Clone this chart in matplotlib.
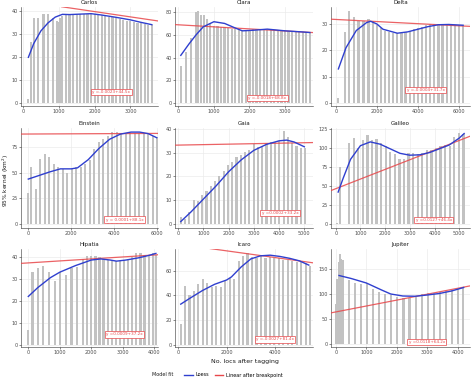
"""Home range (95% kernel) vs number of locations, one panel per individual."""
import matplotlib
matplotlib.use('Agg')
import matplotlib.pyplot as plt
from matplotlib.lines import Line2D

# ---- data -----------------------------------------------------------------
carlos_x = [150, 220, 300, 430, 570, 700, 830, 950, 1000, 1050, 1100, 1200, 1300, 1400, 1500,
            1600, 1700, 1800, 1900, 2000, 2100, 2200, 2300, 2400, 2500, 2600, 2700, 2800,
            2900, 3000, 3100, 3200, 3300, 3400, 3500, 3600]
carlos_n = [2, 26.5, 37, 37, 39, 39, 37, 36, 35.5, 37, 38, 38.5, 38.5, 38.7, 38.8, 39, 39, 39,
            39, 39, 38.8, 38.4, 38, 37.7, 37.4, 37, 36.7, 36.4, 36, 35.7, 35.4, 35.1, 34.8,
            34.5, 34.2, 34]
carlos_fit_x = [150, 300, 500, 700, 900, 1100, 1300, 1600, 1900, 2200, 2600, 3000, 3300, 3600]
carlos_fit_y = [20, 26, 31.5, 35, 37.5, 38.7, 38.6, 38.8, 39, 38.4, 37.4, 36.3, 35.2, 34.2]

clara_x = [70, 210, 350, 500, 560, 640, 720, 800, 900, 1000, 1100, 1200, 1300, 1400, 1500,
           1600, 1700, 1800, 1900, 2000, 2100, 2200, 2300, 2400, 2500, 2600, 2700, 2800,
           2900, 3000, 3100, 3200, 3300, 3400, 3500, 3600, 3700]
clara_n = [33, 45, 57, 80, 81, 77, 77, 74, 70, 68, 67.5, 67, 66.5, 66, 65.5, 65, 64.5, 64, 64,
           64.5, 65, 65, 65, 64.8, 64.6, 64.4, 64.2, 64, 63.8, 63.6, 63.4, 63.2, 63, 62.8,
           62.6, 62.3, 62]
clara_fit_x = [70, 300, 500, 700, 1000, 1300, 1600, 1800, 2100, 2500, 3000, 3500, 3700]
clara_fit_y = [42, 52, 60, 67, 71.5, 70, 66, 63.5, 64, 65, 63.5, 62.5, 62]

delta_x = [130, 440, 650, 880, 1110, 1350, 1600, 1800, 2000, 2200, 2400, 2600, 2800, 3000,
           3200, 3400, 3600, 3800, 4000, 4200, 4400, 4600, 4800, 5000, 5200, 5400, 5600,
           5800, 6000, 6200]
delta_n = [2, 27, 35, 32.5, 31, 31, 32, 31, 29.5, 28.5, 27.5, 27, 26.5, 26.5, 26.5, 27, 27.5,
           28, 28.5, 29, 29.5, 30, 30, 30, 30, 29.8, 29.7, 29.6, 29.5, 29.4]
delta_fit_x = [130, 500, 1000, 1500, 1700, 2000, 2300, 3000, 3500, 4000, 4500, 5000, 5500, 6200]
delta_fit_y = [13, 21, 27.5, 30.5, 31, 30, 28, 26.5, 27, 28, 29, 29.7, 29.8, 29.5]

einstein_x = [0, 120, 350, 560, 770, 980, 1190, 1400, 1610, 1820, 2030, 2240, 2450, 2660,
              2870, 3080, 3290, 3500, 3710, 3920, 4130, 4340, 4550, 4760, 4970, 5180, 5390,
              5600, 5810, 6020]
einstein_n = [30, 56, 34, 64, 69, 66, 59, 56, 54, 50, 54, 56, 56, 59, 63, 73, 80, 83, 86, 90,
              90, 88, 88, 89, 89, 89, 89, 89, 86, 85]
einstein_fit_x = [0, 500, 1000, 1500, 2000, 2300, 2800, 3300, 3800, 4300, 4800, 5200, 5600, 6000]
einstein_fit_y = [44, 47.5, 51, 54, 54, 55, 63, 74, 83, 88, 90, 90, 88.5, 84.5]

gaia_x = [100, 270, 440, 610, 780, 950, 1120, 1290, 1460, 1630, 1800, 1970, 2140, 2310, 2480,
          2650, 2820, 2990, 3160, 3330, 3500, 3670, 3840, 4010, 4180, 4350, 4520, 4690,
          4860, 5030]
gaia_n = [3, 2, 5, 10, 9.5, 12, 14, 16, 18, 20, 22.5, 25, 26, 28, 29, 30.5, 31, 33.5, 32.5, 33,
          34, 34.5, 34.5, 35, 39, 36.5, 34, 33, 32, 32]
gaia_fit_x = [100, 500, 1000, 1500, 2000, 2500, 3000, 3500, 4000, 4300, 4600, 5000]
gaia_fit_y = [1, 5, 10.5, 16, 22, 27, 31, 33.5, 35, 35.3, 34.5, 32.5]

galileo_x = [50, 170, 540, 730, 915, 1100, 1285, 1470, 1655, 1840, 2025, 2210, 2395, 2580,
             2765, 2950, 3135, 3320, 3505, 3690, 3875, 4060, 4245, 4430, 4615, 4800, 4985,
             5170]
galileo_n = [1, 75, 106, 113, 100, 110, 117, 110, 112, 107, 103, 95, 92, 85, 86, 94, 93, 92, 93,
             97, 98, 100, 102, 104, 103, 115, 120, 118]
galileo_fit_x = [100, 300, 600, 1000, 1400, 1800, 2200, 2600, 3000, 3400, 3800, 4200, 4600,
                 5000, 5200]
galileo_fit_y = [42, 60, 85, 103, 108, 105, 99, 93, 90.5, 91, 94, 99, 104, 113, 119]

hipatia_x = [0, 130, 300, 470, 660, 840, 1010, 1190, 1370, 1550, 1730, 1870, 2000, 2130, 2260,
             2390, 2520, 2650, 2780, 2910, 3040, 3170, 3300, 3430, 3560, 3690, 3820, 3950,
             4050]
hipatia_n = [7, 33, 35, 36, 33, 29, 33, 31.5, 35, 35.5, 39, 40.5, 40.5, 40.5, 40, 39, 38.5, 38,
             38, 38, 38.5, 39, 40, 41.5, 41.5, 41, 41, 41.5, 41]
hipatia_fit_x = [0, 300, 700, 1000, 1500, 2000, 2300, 2600, 2800, 3100, 3500, 3800, 4050]
hipatia_fit_y = [22, 26, 30.5, 33, 36, 38.5, 39, 38.5, 38, 38.5, 39.5, 40.5, 41.5]

icaro_x = [96, 275, 460, 645, 830, 1015, 1200, 1385, 1570, 1755, 1940, 2125, 2310, 2495, 2680,
           2865, 3050, 3235, 3420, 3605, 3790, 3975, 4160, 4345, 4530, 4715, 4900, 5085,
           5270, 5455]
icaro_n = [17, 48, 40, 44, 49, 53, 50, 47, 48, 47, 52, 54, 53, 68, 72, 74, 71, 70, 72, 70, 71,
           70, 70, 69, 69, 68, 67, 67, 66, 64]
icaro_fit_x = [100, 500, 1000, 1500, 2000, 2200, 2600, 3000, 3400, 3800, 4200, 4600, 5000, 5400]
icaro_fit_y = [33, 38, 44, 49, 52.5, 55, 63, 69.5, 72, 72.5, 71.5, 70, 68, 64.5]

jupiter_x = [0, 44, 88, 132, 175, 219, 420, 620, 820, 1020, 1220, 1420, 1620, 1820, 2020, 2220,
             2420, 2620, 2820, 3020, 3220, 3420, 3620, 3820, 4020, 4170]
jupiter_n = [80, 130, 165, 180, 170, 168, 128, 122, 120, 122, 110, 104, 100, 98, 95, 92, 93, 95,
             100, 103, 103, 104, 106, 108, 110, 112]
jupiter_fit_x = [100, 500, 1000, 1500, 1800, 2200, 2600, 3000, 3400, 3800, 4200]
jupiter_fit_y = [137, 131, 122, 108, 100, 96, 95.5, 98, 101, 106, 113]

names = ["Carlos", "Clara", "Delta", "Einstein", "Gaia", "Galileo", "Hipatia", "Icaro", "Jupiter"]
slopes = [-0.0023, -0.0018, -0.0004, 0.0001, 0.0002, 0.0127, 0.0009, -0.0027, 0.0118]
intercepts = [44.5, 68.8, 31.7, 88.1, 33.2, 46.4, 37.2, 81.4, 64.2]
eq_labels = ["y =-0.0023+44.5x", "y =-0.0018+68.8x", "y =-0.0004+31.7x",
             "y = 0.0001+88.1x", "y =0.0002+33.2x", "y =0.0127+46.4x",
             "y =0.0009+37.2x", "y =-0.0027+81.4x", "y =0.0118+64.2x"]
breakpoints = [1080, None, None, None, None, None, None, 1320, None]

bars = [(carlos_x, carlos_n), (clara_x, clara_n), (delta_x, delta_n),
        (einstein_x, einstein_n), (gaia_x, gaia_n), (galileo_x, galileo_n),
        (hipatia_x, hipatia_n), (icaro_x, icaro_n), (jupiter_x, jupiter_n)]
fits = [(carlos_fit_x, carlos_fit_y), (clara_fit_x, clara_fit_y), (delta_fit_x, delta_fit_y),
        (einstein_fit_x, einstein_fit_y), (gaia_fit_x, gaia_fit_y),
        (galileo_fit_x, galileo_fit_y), (hipatia_fit_x, hipatia_fit_y),
        (icaro_fit_x, icaro_fit_y), (jupiter_fit_x, jupiter_fit_y)]

# ---- layout -----------------------------------------------------------------
W, H = 474, 381
col_l = [21, 175, 331]
col_r = [158, 313, 470]
row_t = [7, 128, 249]
row_b = [106, 228, 347]

xlims = [(-56, 3771), (-93, 3786), (-229, 6535), (-341, 6060), (-128, 5345),
         (-190, 5437), (-232, 4117), (-138, 5573), (-164, 4408)]
ylims = [(-1.2, 41.9), (-2.4, 84.4), (-1, 36.4), (-3.9, 94), (-1.7, 40.4),
         (-5.3, 126.3), (-0.9, 43.5), (-1.6, 77.5), (-6, 190)]
xticks = [[0, 1000, 2000, 3000], [0, 1000, 2000, 3000], [0, 2000, 4000, 6000],
          [0, 2000, 4000, 6000], [0, 1000, 2000, 3000, 4000, 5000],
          [0, 1000, 2000, 3000, 4000, 5000], [0, 1000, 2000, 3000, 4000],
          [0, 2000, 4000], [0, 1000, 2000, 3000, 4000]]
yticks = [[0, 10, 20, 30, 40], [0, 20, 40, 60, 80], [0, 10, 20, 30], [0, 25, 50, 75],
          [0, 10, 20, 30, 40], [0, 25, 50, 75, 100, 125], [0, 10, 20, 30, 40],
          [0, 20, 40, 60], [0, 50, 100, 150]]
label_pos = [(0.66, 0.14), (0.67, 0.08), (0.68, 0.16), (0.755, 0.085), (0.76, 0.15),
             (0.74, 0.08), (0.755, 0.13), (0.725, 0.077), (0.69, 0.05)]

BAR = "#C2C2C2"
BLUE = "#2F3FCF"
RED = "#E8474A"

fig = plt.figure(figsize=(W / 100, H / 100), dpi=100)

for i, name in enumerate(names):
    r, c = divmod(i, 3)
    ax = fig.add_axes([col_l[c] / W, 1 - row_b[r] / H,
                       (col_r[c] - col_l[c]) / W, (row_b[r] - row_t[r]) / H])
    ax.set_xlim(*xlims[i])
    ax.set_ylim(*ylims[i])
    # bar width of ~2.2 px in data units
    px_per_unit = (col_r[c] - col_l[c]) / (xlims[i][1] - xlims[i][0])
    bx, bn = bars[i]
    ax.bar(bx, bn, width=2.2 / px_per_unit, color=BAR, zorder=2)
    fx, fy = fits[i]
    ax.plot(fx, fy, color=BLUE, lw=1.0, zorder=4)
    x0 = breakpoints[i] if breakpoints[i] is not None else xlims[i][0]
    x1 = xlims[i][1]
    ax.plot([x0, x1], [intercepts[i] + slopes[i] * x0, intercepts[i] + slopes[i] * x1],
            color=RED, lw=0.9, alpha=0.85, zorder=3)
    ax.text(*label_pos[i], eq_labels[i], transform=ax.transAxes, fontsize=3,
            color=RED, ha="center", va="center", zorder=5,
            bbox=dict(boxstyle="square,pad=0.3", fc="white", ec=RED, lw=0.5))
    ax.set_title(name, fontsize=4, color="#1A1A1A", pad=2)
    ax.set_xticks(xticks[i])
    ax.set_yticks(yticks[i])
    ax.grid(True, color="#EBEBEB", lw=0.5, zorder=0)
    ax.set_axisbelow(True)
    for s in ["top", "right"]:
        ax.spines[s].set_visible(False)
    for s in ["left", "bottom"]:
        ax.spines[s].set_color("#333333")
        ax.spines[s].set_linewidth(0.4)
    ax.tick_params(labelsize=3.5, length=1.5, width=0.4, pad=1, colors="#333333",
                   labelcolor="#4D4D4D")

fig.text(5.5 / W, 1 - 180 / H, "95% kernel (km$^2$)", rotation=90, fontsize=4.2,
         ha="center", va="center", color="#1A1A1A")
fig.text(245 / W, 1 - 362 / H, "No. locs after tagging", fontsize=4.5,
         ha="center", va="center", color="#1A1A1A")

fig.text(152 / W, 1 - 375 / H, "Model fit", fontsize=3.5, ha="left", va="center",
         color="#1A1A1A")
handles = [Line2D([], [], color=BLUE, lw=1.0), Line2D([], [], color=RED, lw=1.0)]
fig.legend(handles, ["Loess", "Linear after breakpoint"], loc="center left",
           bbox_to_anchor=(184 / W, 1 - 375 / H), ncol=2, frameon=False, fontsize=3.5,
           handlelength=1.8, handletextpad=0.5, columnspacing=1.2, borderpad=0,
           borderaxespad=0)

fig.savefig("out.png", dpi=100)
